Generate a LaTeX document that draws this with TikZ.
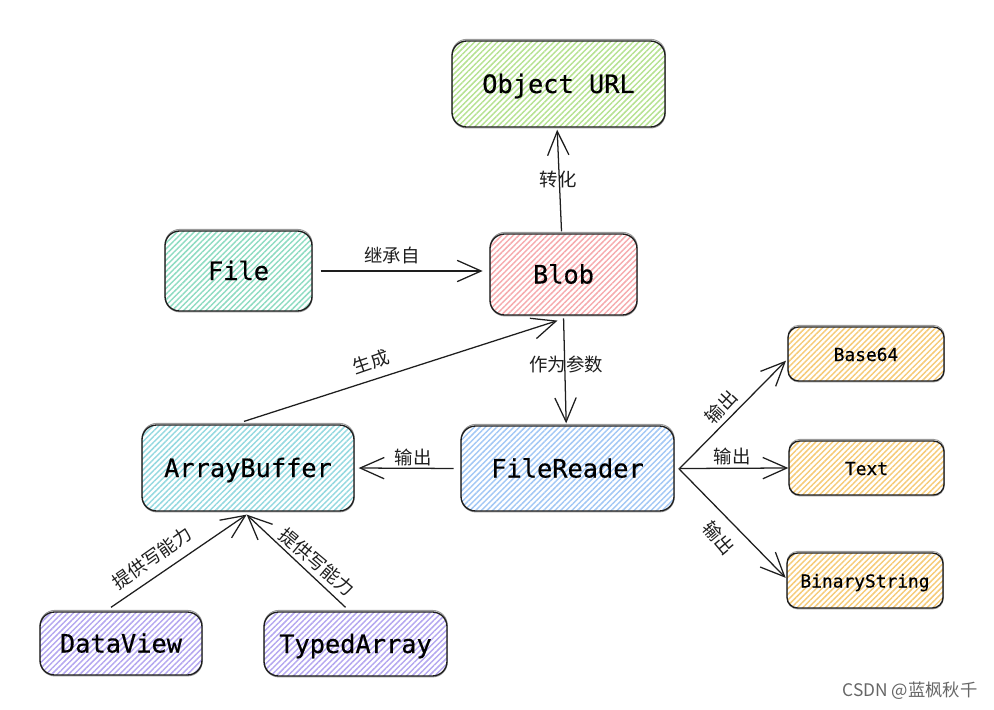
\documentclass[tikz,border=0pt]{standalone}
\usepackage{fontspec}
\setmainfont{DejaVu Sans Mono}[FakeBold=0.45]
\newfontfamily\cjk{Noto Sans CJK SC}
\newfontfamily\markfont{Noto Sans CJK SC}
\usetikzlibrary{arrows.meta,patterns.meta,calc}
\definecolor{ink}{HTML}{1E1E1E}
\definecolor{cgreen}{HTML}{B6E292}
\definecolor{cteal}{HTML}{8FDCC2}
\definecolor{cred}{HTML}{F6ABAE}
\definecolor{ccyan}{HTML}{95D9E0}
\definecolor{cblue}{HTML}{A3C8F5}
\definecolor{corange}{HTML}{F6CB78}
\definecolor{cpurple}{HTML}{B5A8F0}
\tikzset{
  x=0.75pt,y=-0.75pt,
  box/.style={draw=ink,line width=1pt,rounded corners=11pt,inner sep=0pt,text=black,
    pattern={Lines[angle=45,distance=3pt,line width=1.1pt]}},
  big/.style={box,font=\fontsize{19}{19}\selectfont,text height=13.5pt,text depth=0pt},
  small/.style={box,font=\fontsize{13.4}{14}\selectfont,rounded corners=8pt,text height=10.5pt,text depth=0pt},
  sketch/.style={draw=ink,opacity=0.45,line width=0.7pt},
  conn/.style={draw=ink,line width=0.95pt,-{Straight Barb[length=18pt,width=16pt,line width=0.95pt]}},
  lab/.style={font=\cjk\fontsize{13.8}{14}\selectfont,text=ink,inner sep=0pt}
}
\newcommand{\bx}[8]{%
  \node[#1,pattern color=#7,minimum width=#4*0.75pt,minimum height=#5*0.75pt] (#2) at (#3) {#6};
  \draw[sketch,rounded corners=#8] ([xshift=0.6pt,yshift=0.7pt]#2.north west) rectangle ([xshift=-0.3pt,yshift=-0.2pt]#2.south east);}
\begin{document}
\begin{tikzpicture}
\useasboundingbox (0,0) rectangle (994,709);
\bx{big}{url}{558.5,84}{213}{86}{Object URL}{cgreen}{11pt}
\bx{big}{file}{238.5,271}{147}{80}{File}{cteal}{11pt}
\bx{big}{blob}{563.5,274.5}{147}{81}{Blob}{cred}{11pt}
\bx{big}{ab}{248,468}{212}{86}{ArrayBuffer}{ccyan}{11pt}
\bx{big}{reader}{567.5,468.5}{213}{85}{FileReader}{cblue}{11pt}
\bx{small}{b64}{866,354}{156}{54}{Base64}{corange}{8pt}
\bx{small}{text}{866.5,468}{155}{54}{Text}{corange}{8pt}
\bx{small}{bin}{865,580.5}{156}{55}{BinaryString}{corange}{8pt}
\bx{big}{dv}{121,643.5}{162}{63}{DataView}{cpurple}{11pt}
\bx{big}{ta}{355.5,644}{183}{64}{TypedArray}{cpurple}{11pt}

\draw[conn] ([xshift=-1.5pt,yshift=1.5pt]blob.north) -- ([xshift=-1pt,yshift=-1.5pt]url.south);
\draw[conn,shorten <=6pt,shorten >=5pt] (file.east) -- (file.east -| blob.west);
\draw[conn,shorten <=2pt] (blob.south) -- ([yshift=1.5pt,xshift=-1pt]reader.north);
\draw[conn] ([xshift=-3pt,yshift=2.2pt]ab.north) -- ([xshift=-4.5pt,yshift=-3.7pt]blob.south);
\draw[conn,shorten <=5pt,shorten >=3pt] (reader.west) -- (ab.east);
\draw[conn] ([xshift=3.7pt]reader.east) -- ([xshift=-1pt,yshift=-5pt]b64.west);
\draw[conn] ([xshift=4pt]reader.east) -- (text.west);
\draw[conn] ([xshift=3pt]reader.east) -- ([xshift=-0.5pt,yshift=2pt]bin.west);
\draw[conn] ([xshift=-7.5pt,yshift=3pt]dv.north) -- ([xshift=-1pt,yshift=-2.2pt]ab.south);
\draw[conn] ([xshift=-7.5pt,yshift=3pt]ta.north) -- ([xshift=-1pt,yshift=-2.2pt]ab.south);

\node[lab] (l1) at (558,180) {转化};
\node[lab] (l2) at (392,255) {继承自};
\node[lab] (l3) at (566,364) {作为参数};
\node[lab,rotate=19] (l4) at (371,362) {生成};
\node[lab] (l5) at (413,457) {输出};
\node[lab,rotate=47] (l6) at (721,407) {输出};
\node[lab] (l7) at (732,456) {输出};
\node[lab,rotate=-50] (l8) at (719,538) {输出};
\node[lab,rotate=35] (l9) at (152,558) {提供写能力};
\node[lab,rotate=-40] (l10) at (317,562) {提供写能力};
\node[font=\markfont\fontsize{13}{13}\selectfont,text=black!60,inner sep=0pt] (mark) at (910,691) {CSDN @蓝枫秋千};
\end{tikzpicture}
\end{document}
